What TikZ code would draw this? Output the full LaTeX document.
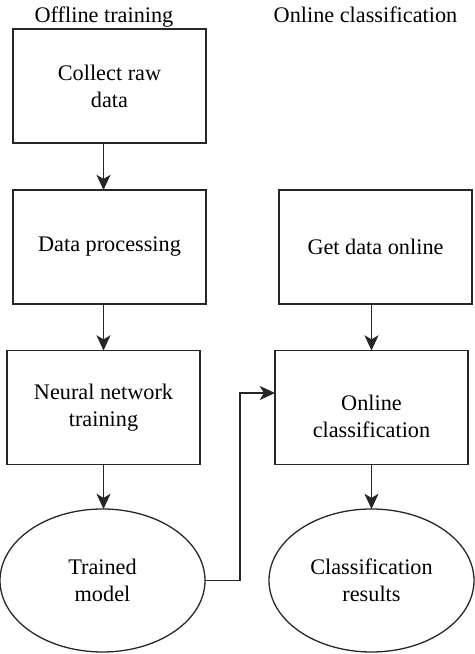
\documentclass[tikz,border=0pt]{standalone}
\usepackage{fontspec}
\setmainfont{Liberation Serif}
\usepackage{tikz}
\usetikzlibrary{shapes.geometric,arrows.meta}

\tikzset{
  stagebox/.style={draw=black!85,line width=1.1pt,rectangle,minimum width=5.79cm,minimum height=3.42cm,inner sep=0pt,outer sep=0pt,align=center},
  outcome/.style={draw=black!85,line width=1.1pt,ellipse,minimum width=6.15cm,minimum height=4.29cm,inner sep=0pt,outer sep=0pt,align=center},
  flow/.style={draw=black!85,line width=1.1pt,-{Stealth[length=13pt,width=12pt,inset=3.5pt]}}
}

\begin{document}
\begin{tikzpicture}[font=\fontsize{19pt}{23pt}\selectfont]
  \useasboundingbox (0,0) rectangle (14.22,19.62);
  % column titles
  \node (offtitle) at (3.12, 18.93)[anchor=base,inner sep=0pt]{Offline training};
  \node (ontitle) at (10.965, 18.93)[anchor=base,inner sep=0pt]{Online classification};
  % offline side
  \node (collect) at (3.285, 17.04)[stagebox]{Collect raw\\data};
  \node (process) at (3.285, 12.21)[stagebox]{Data processing};
  \node (train) at (3.105, 7.395)[stagebox]{Neural network\\training};
  \node (model) at (3.075, 2.205)[outcome]{Trained\\model};
  % online side
  \node (getdata) at (11.265, 12.21)[stagebox]{Get data online};
  \node (classify) at (11.145, 7.395)[stagebox,text height=51pt]{Online\\classification};
  \node (results) at (11.145, 2.205)[outcome]{Classification\\results};
  \coordinate (entry) at ([yshift=0.435cm]classify.west);
  \draw [flow] (collect.south -| train.north) -- (process.north -| train.north);
  \draw [flow] (process.south -| train.north) -- (train.north);
  \draw [flow] (train.south) -- (train.south |- model.north);
  \draw [flow] (getdata.south -| classify.north) -- (classify.north);
  \draw [flow] (classify.south) -- (results.north);
  \draw [flow] (model.east) -- ++(1.05,0) |- (entry);
\end{tikzpicture}
\end{document}
